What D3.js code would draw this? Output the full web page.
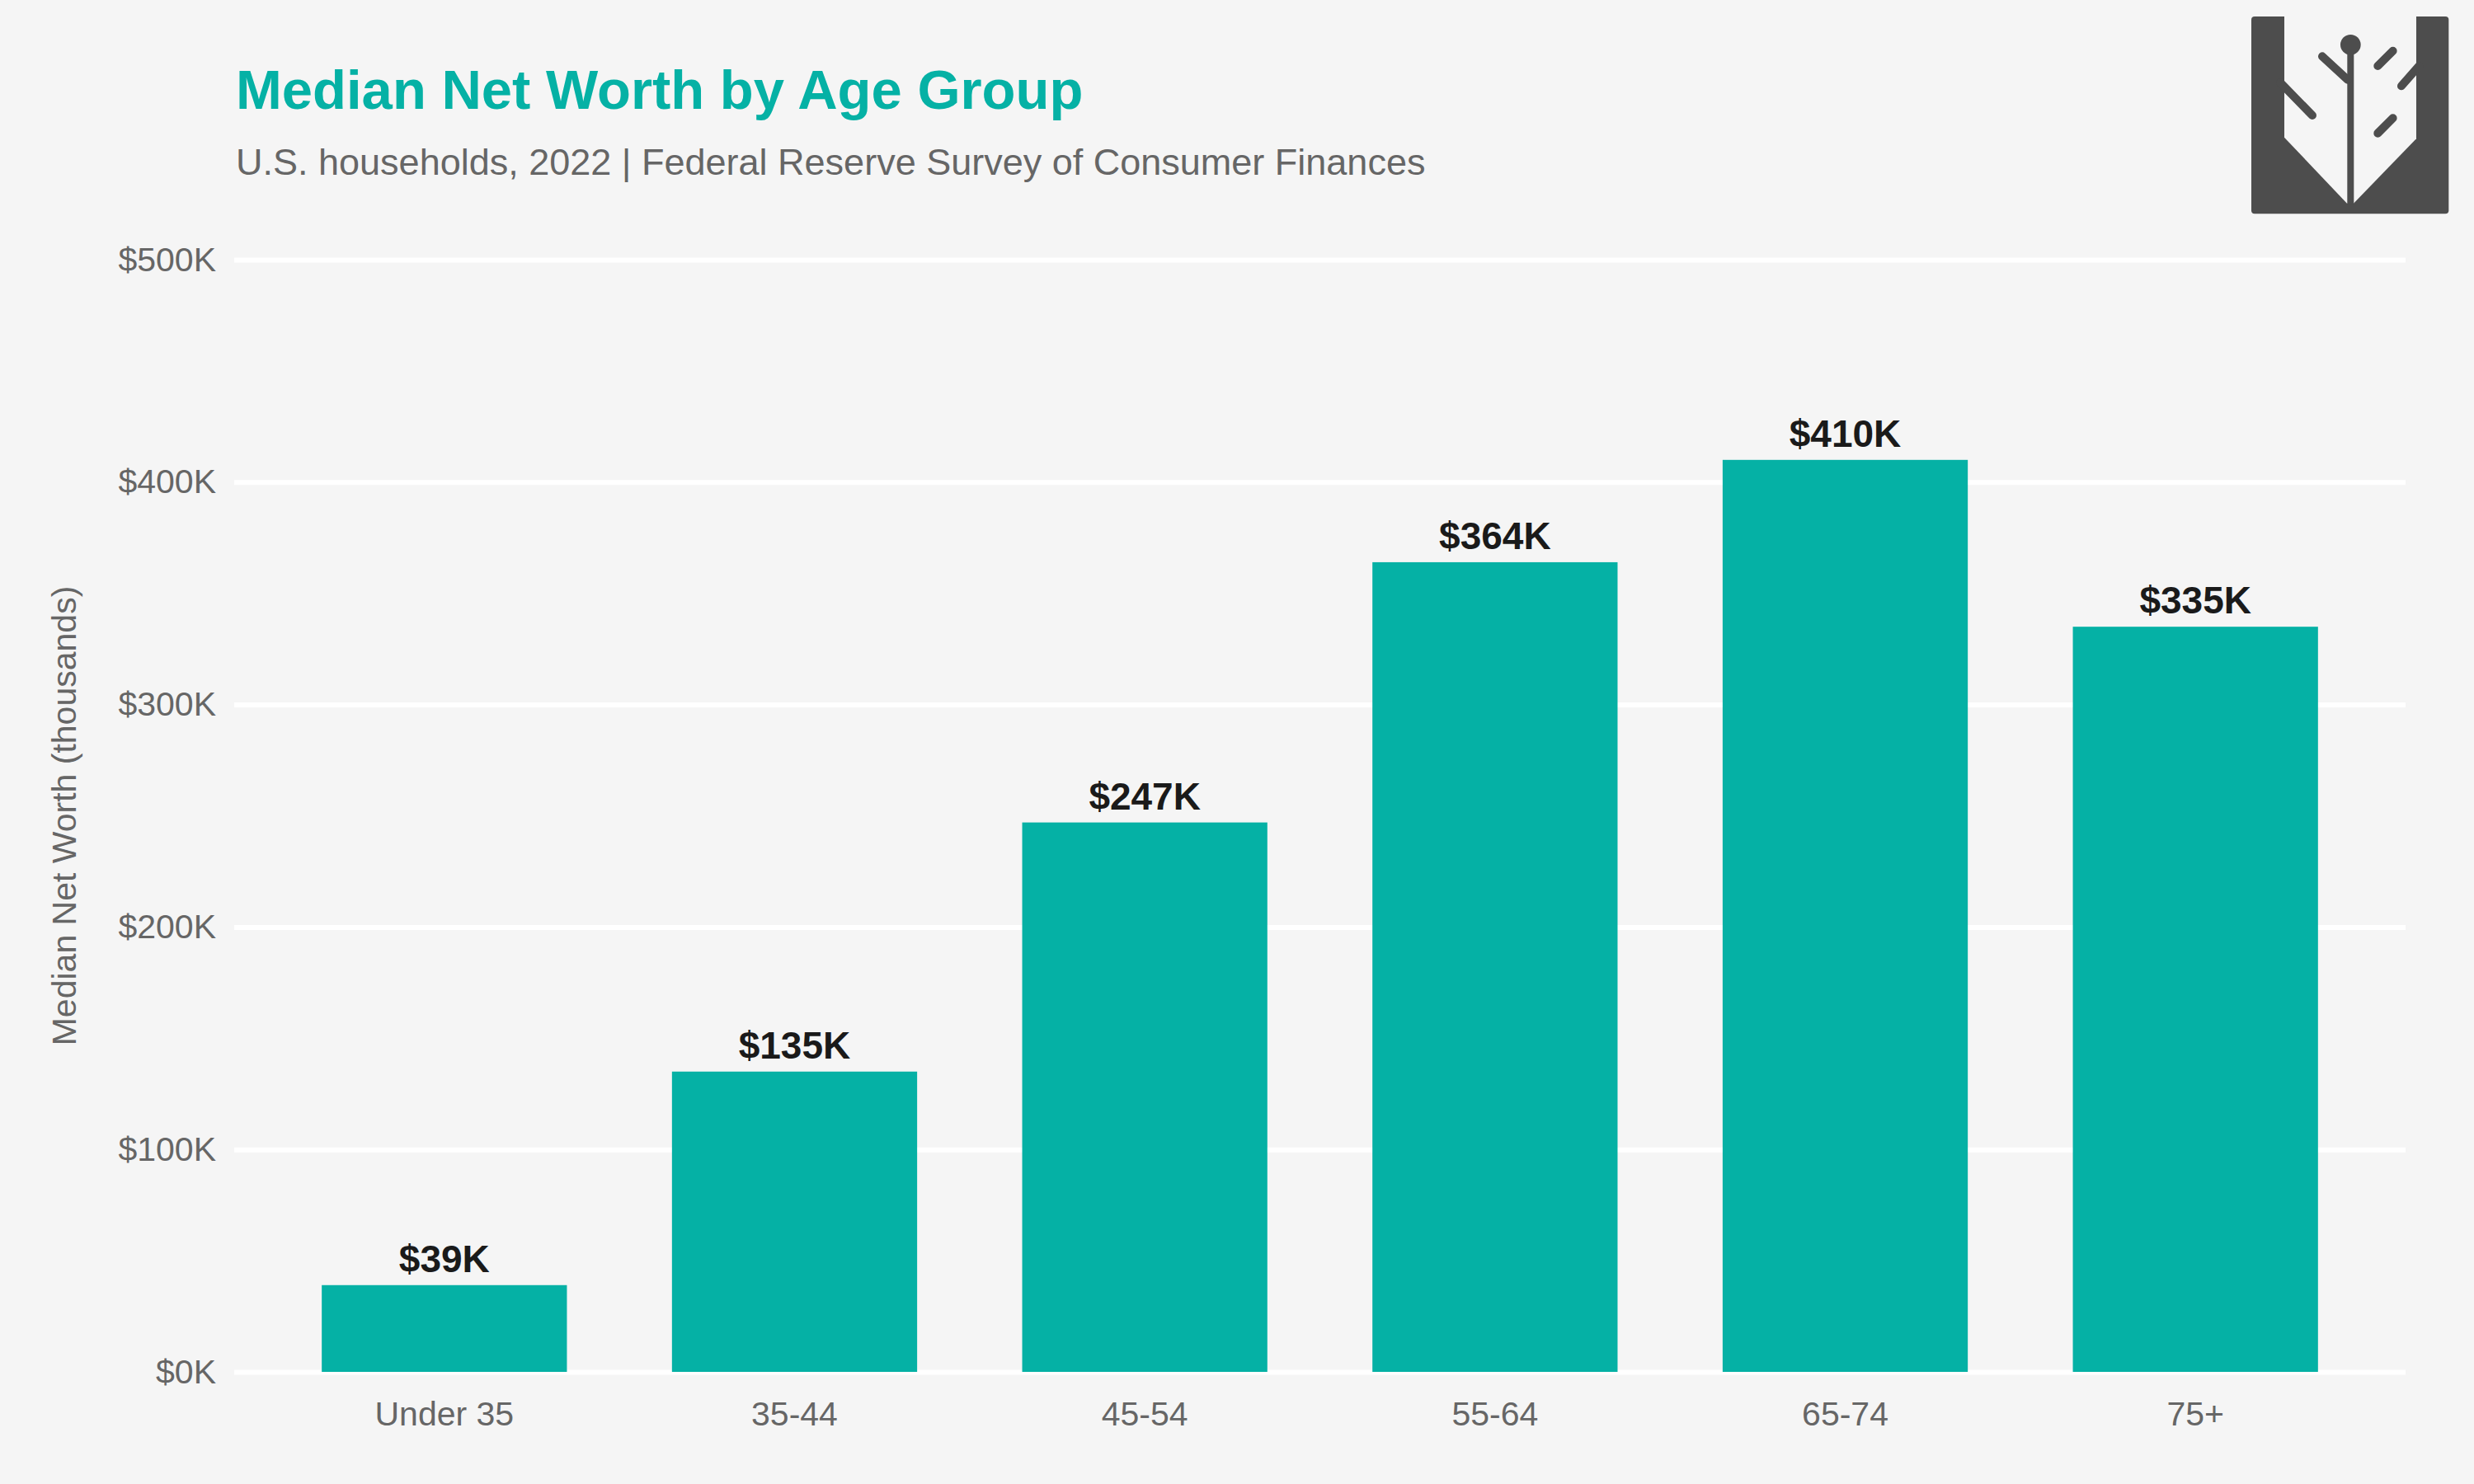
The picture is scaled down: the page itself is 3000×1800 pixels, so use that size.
<!DOCTYPE html>
<html>
<head>
    <meta charset="utf-8">
    <title>Median Net Worth by Age Group</title>
    <script src="https://d3js.org/d3.v7.min.js"></script>
    <style>
        body { margin: 0; background: #f5f5f5; }
        text { font-family: "Liberation Sans", Arial, Helvetica, sans-serif; }
    </style>
</head>

<body>
<div id="chart"></div>
<script type="text/javascript">

    // dados (milhares de dólares)
    let ageGroups = ["Under 35", "35-44", "45-54", "55-64", "65-74", "75+"];
    let netWorth = [39, 135, 247, 364, 410, 335];
    let yTicks = [0, 100, 200, 300, 400, 500];

    let titleText = "Median Net Worth by Age Group";
    let subtitleText = "U.S. households, 2022 | Federal Reserve Survey of Consumer Finances";
    let yTitle = "Median Net Worth (thousands)";

    let teal = "#05b1a5";
    let grey = "#666666";

    let width = 3000, height = 1800;
    let margin = {top: 315, right: 83, bottom: 136, left: 284};
    let w = width - margin.left - margin.right;
    let h = height - margin.top - margin.bottom;

    let root = d3.select("#chart")
            .append("svg")
                .attr("width", width)
                .attr("height", height)
                .style("background", "#f5f5f5");

    let svg = root.append("g")
            .attr("transform", "translate(" + margin.left + "," + margin.top + ")");

    // escala x tipo ggplot: 0.6 de expansão em cada lado
    let xScale = d3.scaleBand()
            .domain(ageGroups)
            .range([0, w])
            .paddingInner(0.3)
            .paddingOuter(0.25);

    let yScale = d3.scaleLinear()
            .domain([0, 500])
            .range([h, 0]);

    // linhas de grade
    let yAxis = d3.axisLeft(yScale)
            .tickValues(yTicks)
            .tickSize(-w)
            .tickPadding(22)
            .tickFormat(function(d) { return "$" + d + "K"; });

    let gy = svg.append("g").call(yAxis);
    gy.select(".domain").remove();
    gy.selectAll(".tick line")
        .attr("stroke", "#ffffff")
        .attr("stroke-width", 6);
    gy.selectAll(".tick text")
        .attr("fill", grey)
        .attr("font-size", "41px")
        .attr("font-family", "Liberation Sans, Arial, sans-serif");

    // barras
    svg.selectAll("rect.bar")
        .data(netWorth)
        .enter()
        .append("rect")
        .attr("class", "bar")
        .attr("x", function(d, i) { return xScale(ageGroups[i]); })
        .attr("y", function(d) { return yScale(d); })
        .attr("width", xScale.bandwidth())
        .attr("height", function(d) { return h - yScale(d); })
        .attr("fill", teal);

    // rótulos das barras
    svg.selectAll("text.value")
        .data(netWorth)
        .enter()
        .append("text")
        .attr("class", "value")
        .attr("x", function(d, i) { return xScale(ageGroups[i]) + xScale.bandwidth() / 2; })
        .attr("y", function(d) { return yScale(d) - 16; })
        .attr("text-anchor", "middle")
        .attr("font-size", "46px")
        .attr("font-weight", "bold")
        .attr("fill", "#1a1a1a")
        .text(function(d) { return "$" + d + "K"; });

    // eixo x
    let xAxis = d3.axisBottom(xScale).tickSize(0).tickPadding(36);
    let gx = svg.append("g")
        .attr("transform", "translate(0," + h + ")")
        .call(xAxis);
    gx.select(".domain").remove();
    gx.selectAll(".tick text")
        .attr("fill", grey)
        .attr("font-size", "41px")
        .attr("font-family", "Liberation Sans, Arial, sans-serif");

    // título do eixo y
    svg.append("text")
        .attr("transform", "translate(" + (92 - margin.left) + "," + (h / 2) + ") rotate(-90)")
        .attr("text-anchor", "middle")
        .attr("font-size", "41px")
        .attr("fill", grey)
        .text(yTitle);

    // título e subtítulo
    root.append("text")
        .attr("x", 286)
        .attr("y", 132)
        .attr("font-size", "67px")
        .attr("font-weight", "bold")
        .attr("fill", teal)
        .text(titleText);

    root.append("text")
        .attr("x", 286)
        .attr("y", 212)
        .attr("font-size", "45px")
        .attr("fill", grey)
        .text(subtitleText);

    // logo (coordenadas do recorte ampliado 3x)
    let logo = root.append("g")
        .attr("transform", "translate(2700,0) scale(0.3333)");
    let dark = "#4d4d4d";
    logo.append("rect")
        .attr("x", 90).attr("y", 60)
        .attr("width", 718).attr("height", 718)
        .attr("rx", 12)
        .attr("fill", dark);
    logo.append("path")
        .attr("d", "M210,60 L690,60 L690,505 L462,740 L438,740 L210,500 Z")
        .attr("fill", "#f5f5f5");
    logo.append("line")
        .attr("x1", 451).attr("y1", 170).attr("x2", 451).attr("y2", 745)
        .attr("stroke", dark).attr("stroke-width", 24);
    logo.append("circle")
        .attr("cx", 451).attr("cy", 163).attr("r", 37)
        .attr("fill", dark);
    let strokes = [
        [348, 205, 440, 290],
        [195, 300, 312, 420],
        [605, 185, 550, 240],
        [700, 240, 636, 313],
        [605, 430, 550, 485]
    ];
    logo.selectAll("line.branch")
        .data(strokes)
        .enter()
        .append("line")
        .attr("class", "branch")
        .attr("x1", function(d) { return d[0]; })
        .attr("y1", function(d) { return d[1]; })
        .attr("x2", function(d) { return d[2]; })
        .attr("y2", function(d) { return d[3]; })
        .attr("stroke", dark)
        .attr("stroke-width", 30)
        .attr("stroke-linecap", "round");

</script>
</body>
</html>
